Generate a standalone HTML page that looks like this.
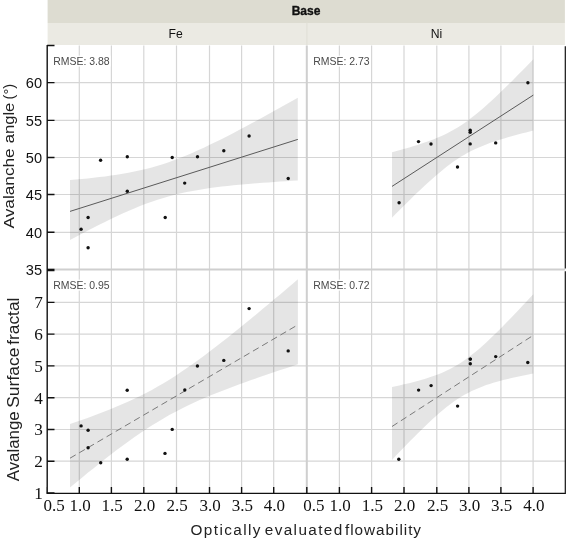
<!DOCTYPE html>
<html><head><meta charset="utf-8"><title>Chart</title>
<style>html,body{margin:0;padding:0;background:#fff;}svg{display:block;}</style></head>
<body><svg width="567" height="541" viewBox="0 0 567 541">
<rect width="567" height="541" fill="#fff"/>
<rect x="47.6" y="0" width="517.3" height="23" fill="#dddcd1"/>
<rect x="47.6" y="23" width="517.3" height="22" fill="#ebeae3"/>
<line x1="306.9" y1="22.8" x2="306.9" y2="45.2" stroke="#e3e2da" stroke-width="1.5"/>
<text x="306" y="15.2" font-family="Liberation Sans, sans-serif" font-weight="bold" font-size="12" text-anchor="middle" fill="#111" stroke="#111" stroke-width="0.35">Base</text>
<text x="175.6" y="38.3" font-family="Liberation Sans, sans-serif" font-size="12.2" text-anchor="middle" fill="#111">Fe</text>
<text x="436.4" y="38.3" font-family="Liberation Sans, sans-serif" font-size="12.2" text-anchor="middle" fill="#111">Ni</text>
<path fill="none" stroke="#d6d6d6" stroke-width="1.2" d="M79.3 45.5V493.3M111.4 45.5V493.3M143.8 45.5V493.3M176.5 45.5V493.3M209.5 45.5V493.3M241.6 45.5V493.3M273.7 45.5V493.3M339.4 45.5V493.3M371.6 45.5V493.3M404.0 45.5V493.3M436.8 45.5V493.3M468.9 45.5V493.3M500.9 45.5V493.3M533.1 45.5V493.3M47.1 232.3H565.3M47.1 194.5H565.3M47.1 157.5H565.3M47.1 120.4H565.3M47.1 82.6H565.3M47.1 461.2H565.3M47.1 429.5H565.3M47.1 397.7H565.3M47.1 365.9H565.3M47.1 334.1H565.3M47.1 302.4H565.3"/>
<path fill="none" stroke="#cfcfcf" stroke-width="2" d="M306.8 45.5V493.3M47.1 269.6H565.3"/>
<polygon fill="#000" fill-opacity="0.1" points="70.0,180.0 75.8,179.5 81.7,179.0 87.5,178.4 93.4,177.8 99.2,177.1 105.0,176.4 110.9,175.6 116.7,174.7 122.6,173.7 128.4,172.7 134.3,171.6 140.1,170.3 145.9,168.9 151.8,167.4 157.6,165.7 163.5,163.9 169.3,161.9 175.1,159.8 181.0,157.6 186.8,155.2 192.7,152.7 198.5,150.1 204.3,147.4 210.2,144.6 216.0,141.8 221.9,138.9 227.7,135.9 233.5,132.9 239.4,129.8 245.2,126.7 251.1,123.6 256.9,120.4 262.8,117.2 268.6,114.0 274.4,110.7 280.3,107.5 286.1,104.2 292.0,100.9 297.8,97.7 297.8,180.5 292.0,180.8 286.1,181.2 280.3,181.6 274.4,181.9 268.6,182.4 262.8,182.8 256.9,183.2 251.1,183.7 245.2,184.2 239.4,184.7 233.5,185.3 227.7,185.9 221.9,186.6 216.0,187.3 210.2,188.1 204.3,189.0 198.5,189.9 192.7,190.9 186.8,192.1 181.0,193.3 175.1,194.7 169.3,196.3 163.5,197.9 157.6,199.8 151.8,201.7 145.9,203.8 140.1,206.1 134.3,208.5 128.4,211.0 122.6,213.6 116.7,216.3 110.9,219.0 105.0,221.9 99.2,224.8 93.4,227.8 87.5,230.8 81.7,233.8 75.8,236.9 70.0,240.0"/>
<polygon fill="#000" fill-opacity="0.1" points="392.0,152.2 395.6,151.2 399.2,150.3 402.9,149.3 406.5,148.2 410.1,147.2 413.7,146.1 417.4,145.0 421.0,143.8 424.6,142.6 428.2,141.3 431.9,139.9 435.5,138.5 439.1,137.0 442.7,135.4 446.3,133.7 450.0,131.8 453.6,129.8 457.2,127.7 460.8,125.4 464.5,122.9 468.1,120.4 471.7,117.6 475.3,114.8 479.0,111.8 482.6,108.7 486.2,105.5 489.8,102.2 493.4,98.9 497.1,95.5 500.7,92.0 504.3,88.5 507.9,84.9 511.6,81.4 515.2,77.7 518.8,74.1 522.4,70.4 526.1,66.7 529.7,63.0 533.3,59.3 533.3,130.6 529.7,131.5 526.1,132.4 522.4,133.3 518.8,134.3 515.2,135.3 511.6,136.3 507.9,137.3 504.3,138.4 500.7,139.5 497.1,140.6 493.4,141.8 489.8,143.1 486.2,144.4 482.6,145.9 479.0,147.4 475.3,149.0 471.7,150.8 468.1,152.6 464.5,154.7 460.8,156.8 457.2,159.2 453.6,161.6 450.0,164.3 446.3,167.0 442.7,169.9 439.1,172.9 435.5,176.0 431.9,179.2 428.2,182.5 424.6,185.8 421.0,189.2 417.4,192.6 413.7,196.1 410.1,199.7 406.5,203.2 402.9,206.8 399.2,210.4 395.6,214.1 392.0,217.7"/>
<polygon fill="#000" fill-opacity="0.1" points="70.0,424.1 75.8,422.0 81.7,420.0 87.5,417.9 93.4,415.7 99.2,413.5 105.1,411.3 110.9,408.9 116.7,406.5 122.6,404.0 128.4,401.5 134.3,398.8 140.1,395.9 146.0,393.0 151.8,389.9 157.7,386.6 163.5,383.2 169.3,379.7 175.2,376.0 181.0,372.1 186.9,368.1 192.7,364.0 198.6,359.8 204.4,355.5 210.2,351.1 216.1,346.6 221.9,342.0 227.8,337.4 233.6,332.7 239.5,328.0 245.3,323.3 251.2,318.5 257.0,313.7 262.8,308.8 268.7,303.9 274.5,299.1 280.4,294.2 286.2,289.2 292.1,284.3 297.9,279.3 297.9,364.3 292.1,366.2 286.2,368.2 280.4,370.1 274.5,372.1 268.7,374.0 262.8,376.1 257.0,378.1 251.2,380.1 245.3,382.2 239.5,384.3 233.6,386.5 227.8,388.7 221.9,390.9 216.1,393.3 210.2,395.6 204.4,398.1 198.6,400.6 192.7,403.3 186.9,406.0 181.0,408.9 175.2,411.9 169.3,415.1 163.5,418.4 157.7,421.9 151.8,425.5 146.0,429.3 140.1,433.2 134.3,437.2 128.4,441.4 122.6,445.7 116.7,450.1 110.9,454.5 105.1,459.1 99.2,463.7 93.4,468.4 87.5,473.1 81.7,477.9 75.8,482.7 70.0,487.5"/>
<polygon fill="#000" fill-opacity="0.1" points="392.0,387.0 395.6,386.3 399.2,385.5 402.9,384.6 406.5,383.8 410.1,382.9 413.7,382.0 417.4,381.0 421.0,380.0 424.6,379.0 428.2,377.8 431.9,376.6 435.5,375.3 439.1,373.9 442.7,372.4 446.3,370.8 450.0,369.0 453.6,367.1 457.2,365.0 460.8,362.7 464.5,360.2 468.1,357.6 471.7,354.8 475.3,351.9 479.0,348.9 482.6,345.7 486.2,342.4 489.8,339.0 493.4,335.5 497.1,332.0 500.7,328.4 504.3,324.7 507.9,321.0 511.6,317.3 515.2,313.5 518.8,309.7 522.4,305.8 526.1,302.0 529.7,298.1 533.3,294.2 533.3,373.6 529.7,374.3 526.1,375.0 522.4,375.7 518.8,376.5 515.2,377.3 511.6,378.1 507.9,378.9 504.3,379.8 500.7,380.8 497.1,381.8 493.4,382.8 489.8,383.9 486.2,385.1 482.6,386.4 479.0,387.9 475.3,389.4 471.7,391.1 468.1,392.9 464.5,394.8 460.8,397.0 457.2,399.3 453.6,401.8 450.0,404.5 446.3,407.3 442.7,410.2 439.1,413.3 435.5,416.5 431.9,419.8 428.2,423.2 424.6,426.7 421.0,430.2 417.4,433.8 413.7,437.4 410.1,441.1 406.5,444.8 402.9,448.6 399.2,452.3 395.6,456.1 392.0,460.0"/>
<line x1="70.0" y1="211.4" x2="297.8" y2="139.4" stroke="#5a5a5a" stroke-width="1"/>
<line x1="392.0" y1="186.4" x2="533.3" y2="95.1" stroke="#5a5a5a" stroke-width="1"/>
<line x1="70.0" y1="458.2" x2="297.9" y2="324.8" stroke="#7a7a7a" stroke-width="1" stroke-dasharray="6.6 4"/>
<line x1="392.0" y1="426.5" x2="533.3" y2="335.3" stroke="#7a7a7a" stroke-width="1" stroke-dasharray="6.6 4"/>
<circle cx="81.1" cy="229.2" r="1.7" fill="#111"/>
<circle cx="88.1" cy="217.5" r="1.7" fill="#111"/>
<circle cx="88.1" cy="247.7" r="1.7" fill="#111"/>
<circle cx="100.6" cy="160.3" r="1.7" fill="#111"/>
<circle cx="127.3" cy="156.7" r="1.7" fill="#111"/>
<circle cx="127.3" cy="191.3" r="1.7" fill="#111"/>
<circle cx="165.2" cy="217.5" r="1.7" fill="#111"/>
<circle cx="172.2" cy="157.5" r="1.7" fill="#111"/>
<circle cx="184.7" cy="183.1" r="1.7" fill="#111"/>
<circle cx="197.5" cy="156.7" r="1.7" fill="#111"/>
<circle cx="223.8" cy="150.8" r="1.7" fill="#111"/>
<circle cx="249.1" cy="136.0" r="1.7" fill="#111"/>
<circle cx="288.2" cy="178.5" r="1.7" fill="#111"/>
<circle cx="399.1" cy="202.7" r="1.7" fill="#111"/>
<circle cx="418.5" cy="141.6" r="1.7" fill="#111"/>
<circle cx="431.0" cy="144.0" r="1.7" fill="#111"/>
<circle cx="457.5" cy="167.0" r="1.7" fill="#111"/>
<circle cx="470.2" cy="130.2" r="1.7" fill="#111"/>
<circle cx="470.2" cy="132.2" r="1.7" fill="#111"/>
<circle cx="470.2" cy="143.9" r="1.7" fill="#111"/>
<circle cx="495.7" cy="142.9" r="1.7" fill="#111"/>
<circle cx="527.9" cy="82.8" r="1.7" fill="#111"/>
<circle cx="81.1" cy="425.9" r="1.7" fill="#111"/>
<circle cx="88.1" cy="430.3" r="1.7" fill="#111"/>
<circle cx="88.1" cy="447.8" r="1.7" fill="#111"/>
<circle cx="100.7" cy="462.8" r="1.7" fill="#111"/>
<circle cx="127.2" cy="390.3" r="1.7" fill="#111"/>
<circle cx="127.2" cy="459.2" r="1.7" fill="#111"/>
<circle cx="165.0" cy="453.4" r="1.7" fill="#111"/>
<circle cx="172.2" cy="429.4" r="1.7" fill="#111"/>
<circle cx="184.8" cy="390.0" r="1.7" fill="#111"/>
<circle cx="197.4" cy="366.0" r="1.7" fill="#111"/>
<circle cx="223.8" cy="360.4" r="1.7" fill="#111"/>
<circle cx="249.1" cy="308.6" r="1.7" fill="#111"/>
<circle cx="288.2" cy="350.9" r="1.7" fill="#111"/>
<circle cx="398.8" cy="459.3" r="1.7" fill="#111"/>
<circle cx="418.6" cy="390.1" r="1.7" fill="#111"/>
<circle cx="431.1" cy="385.6" r="1.7" fill="#111"/>
<circle cx="457.6" cy="406.1" r="1.7" fill="#111"/>
<circle cx="470.3" cy="359.1" r="1.7" fill="#111"/>
<circle cx="470.3" cy="359.1" r="1.7" fill="#111"/>
<circle cx="470.3" cy="363.8" r="1.7" fill="#111"/>
<circle cx="495.7" cy="356.6" r="1.7" fill="#111"/>
<circle cx="527.8" cy="362.5" r="1.7" fill="#111"/>
<rect x="51.7" y="55.599999999999994" width="59" height="11" fill="#fff"/>
<text x="53.2" y="64.6" font-family="Liberation Sans, sans-serif" font-size="10.6" fill="#4a4a4a" textLength="56.4" lengthAdjust="spacingAndGlyphs">RMSE: 3.88</text>
<rect x="311.7" y="55.599999999999994" width="59" height="11" fill="#fff"/>
<text x="313.2" y="64.6" font-family="Liberation Sans, sans-serif" font-size="10.6" fill="#4a4a4a" textLength="56.4" lengthAdjust="spacingAndGlyphs">RMSE: 2.73</text>
<rect x="51.7" y="279.6" width="59" height="11" fill="#fff"/>
<text x="53.2" y="288.6" font-family="Liberation Sans, sans-serif" font-size="10.6" fill="#4a4a4a" textLength="56.4" lengthAdjust="spacingAndGlyphs">RMSE: 0.95</text>
<rect x="311.7" y="279.6" width="59" height="11" fill="#fff"/>
<text x="313.2" y="288.6" font-family="Liberation Sans, sans-serif" font-size="10.6" fill="#4a4a4a" textLength="56.4" lengthAdjust="spacingAndGlyphs">RMSE: 0.72</text>
<path fill="none" stroke="#111" stroke-width="1.4" d="M47.2 45.0V493.3M47.1 269.5h7.4M47.1 232.3h7.4M47.1 194.5h7.4M47.1 157.5h7.4M47.1 120.4h7.4M47.1 82.6h7.4M47.1 45.5h7.4M47.1 493.0h7.4M47.1 461.2h7.4M47.1 429.5h7.4M47.1 397.7h7.4M47.1 365.9h7.4M47.1 334.1h7.4M47.1 302.4h7.4M47.1 270.6h7.4M47.1 493.3v-6.4M79.3 493.3v-6.4M111.4 493.3v-6.4M143.8 493.3v-6.4M176.5 493.3v-6.4M209.5 493.3v-6.4M241.6 493.3v-6.4M273.7 493.3v-6.4M306.8 493.3v-6.4M339.4 493.3v-6.4M371.6 493.3v-6.4M404.0 493.3v-6.4M436.8 493.3v-6.4M468.9 493.3v-6.4M500.9 493.3v-6.4M533.1 493.3v-6.4"/>
<path fill="none" stroke="#111" stroke-width="1.2" d="M46.5 493.3H565.3V271.2M565.3 268.6V46.3"/>
<text x="42" y="274.8" font-family="Liberation Sans, sans-serif" font-size="14.6" text-anchor="end" fill="#111">35</text>
<text x="42" y="237.6" font-family="Liberation Sans, sans-serif" font-size="14.6" text-anchor="end" fill="#111">40</text>
<text x="42" y="199.8" font-family="Liberation Sans, sans-serif" font-size="14.6" text-anchor="end" fill="#111">45</text>
<text x="42" y="162.8" font-family="Liberation Sans, sans-serif" font-size="14.6" text-anchor="end" fill="#111">50</text>
<text x="42" y="125.7" font-family="Liberation Sans, sans-serif" font-size="14.6" text-anchor="end" fill="#111">55</text>
<text x="42" y="87.9" font-family="Liberation Sans, sans-serif" font-size="14.6" text-anchor="end" fill="#111">60</text>
<text x="42.8" y="498.9" font-family="Liberation Serif, serif" font-size="17.2" text-anchor="end" fill="#111">1</text>
<text x="42.8" y="467.1" font-family="Liberation Serif, serif" font-size="17.2" text-anchor="end" fill="#111">2</text>
<text x="42.8" y="435.4" font-family="Liberation Serif, serif" font-size="17.2" text-anchor="end" fill="#111">3</text>
<text x="42.8" y="403.6" font-family="Liberation Serif, serif" font-size="17.2" text-anchor="end" fill="#111">4</text>
<text x="42.8" y="371.8" font-family="Liberation Serif, serif" font-size="17.2" text-anchor="end" fill="#111">5</text>
<text x="42.8" y="340.0" font-family="Liberation Serif, serif" font-size="17.2" text-anchor="end" fill="#111">6</text>
<text x="42.8" y="308.3" font-family="Liberation Serif, serif" font-size="17.2" text-anchor="end" fill="#111">7</text>
<text x="54.1" y="511.2" font-family="Liberation Serif, serif" font-size="17" text-anchor="middle" fill="#111">0.5</text>
<text x="80.0" y="511.2" font-family="Liberation Serif, serif" font-size="17" text-anchor="middle" fill="#111">1.0</text>
<text x="112.1" y="511.2" font-family="Liberation Serif, serif" font-size="17" text-anchor="middle" fill="#111">1.5</text>
<text x="144.5" y="511.2" font-family="Liberation Serif, serif" font-size="17" text-anchor="middle" fill="#111">2.0</text>
<text x="177.2" y="511.2" font-family="Liberation Serif, serif" font-size="17" text-anchor="middle" fill="#111">2.5</text>
<text x="210.2" y="511.2" font-family="Liberation Serif, serif" font-size="17" text-anchor="middle" fill="#111">3.0</text>
<text x="242.3" y="511.2" font-family="Liberation Serif, serif" font-size="17" text-anchor="middle" fill="#111">3.5</text>
<text x="274.4" y="511.2" font-family="Liberation Serif, serif" font-size="17" text-anchor="middle" fill="#111">4.0</text>
<text x="313.8" y="511.2" font-family="Liberation Serif, serif" font-size="17" text-anchor="middle" fill="#111">0.5</text>
<text x="340.1" y="511.2" font-family="Liberation Serif, serif" font-size="17" text-anchor="middle" fill="#111">1.0</text>
<text x="372.3" y="511.2" font-family="Liberation Serif, serif" font-size="17" text-anchor="middle" fill="#111">1.5</text>
<text x="404.7" y="511.2" font-family="Liberation Serif, serif" font-size="17" text-anchor="middle" fill="#111">2.0</text>
<text x="437.5" y="511.2" font-family="Liberation Serif, serif" font-size="17" text-anchor="middle" fill="#111">2.5</text>
<text x="469.6" y="511.2" font-family="Liberation Serif, serif" font-size="17" text-anchor="middle" fill="#111">3.0</text>
<text x="501.6" y="511.2" font-family="Liberation Serif, serif" font-size="17" text-anchor="middle" fill="#111">3.5</text>
<text x="533.8" y="511.2" font-family="Liberation Serif, serif" font-size="17" text-anchor="middle" fill="#111">4.0</text>
<text transform="translate(14.1 228.50) rotate(-90)" font-family="Liberation Sans, sans-serif" font-size="15.5" fill="#222" textLength="80.20" lengthAdjust="spacingAndGlyphs">Avalanche</text>
<text transform="translate(14.1 143.30) rotate(-90)" font-family="Liberation Sans, sans-serif" font-size="15.5" fill="#222" textLength="40.60" lengthAdjust="spacingAndGlyphs">angle</text>
<text transform="translate(14.1 99.50) rotate(-90)" font-family="Liberation Sans, sans-serif" font-size="15.5" fill="#222" textLength="15.70" lengthAdjust="spacingAndGlyphs">(°)</text>
<text transform="translate(19.2 481.30) rotate(-90)" font-family="Liberation Sans, sans-serif" font-size="16.8" fill="#222" textLength="70.00" lengthAdjust="spacingAndGlyphs">Avalange</text>
<text transform="translate(19.2 407.80) rotate(-90)" font-family="Liberation Sans, sans-serif" font-size="16.8" fill="#222" textLength="60.20" lengthAdjust="spacingAndGlyphs">Surface</text>
<text transform="translate(19.2 344.80) rotate(-90)" font-family="Liberation Sans, sans-serif" font-size="16.8" fill="#222" textLength="47.20" lengthAdjust="spacingAndGlyphs">fractal</text>
<text transform="scale(1.0 1)" x="190.50" y="535.2" font-family="Liberation Sans, sans-serif" font-size="15.3" fill="#222" textLength="70.00" lengthAdjust="spacing">Optically</text>
<text transform="scale(1.0 1)" x="264.80" y="535.2" font-family="Liberation Sans, sans-serif" font-size="15.3" fill="#222" textLength="77.40" lengthAdjust="spacing">evaluated</text>
<text transform="scale(1.0 1)" x="345.00" y="535.2" font-family="Liberation Sans, sans-serif" font-size="15.3" fill="#222" textLength="76.00" lengthAdjust="spacing">flowability</text>
</svg></body></html>
